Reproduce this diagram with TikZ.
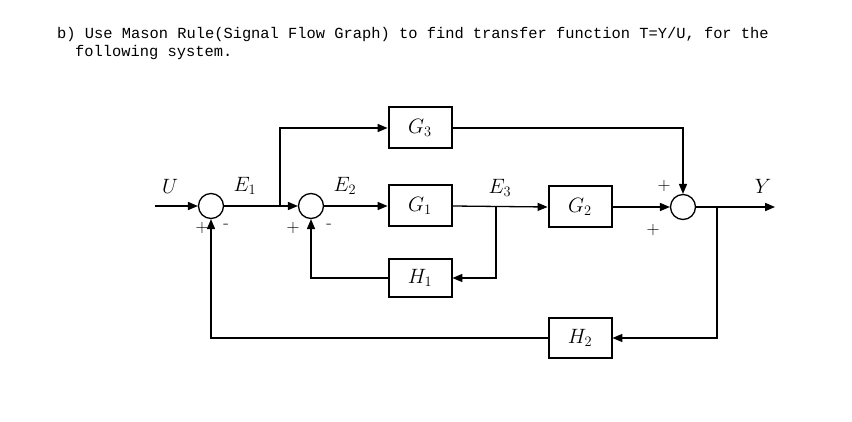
\documentclass[tikz,border=0pt]{standalone}
\usepackage{fontspec}
\newfontfamily\monofont{Liberation Mono}
\usetikzlibrary{arrows,calc,positioning}

\begin{document}
\begin{tikzpicture}[x=1pt,y=-1pt,
            every node/.style={ inner sep=0pt },
            block/.style={ draw, line width=2pt, minimum width=63pt, minimum height=41pt, font=\fontsize{21}{24}\selectfont\itshape },
            sum/.style={ draw, circle, line width=1.3pt, minimum size=25pt },
            sig/.style={ font=\fontsize{21}{24}\selectfont\itshape },
            sgn/.style={ font=\fontsize{18}{20}\selectfont },
            link/.style={ line width=1.3pt, -triangle 45 }
        ]
        \useasboundingbox (0,0) rectangle (852,422);

        \node[anchor=west, font=\monofont\fontsize{15.4}{18}\selectfont] (title) at (57,35)
            {b) Use Mason Rule(Signal Flow Graph) to find transfer function T=Y/U, for the};
        \node[anchor=west, font=\monofont\fontsize{15.4}{18}\selectfont] (title2) at (75,53)
            {following system.};

        \node[sum] (s1) at (211,206) {};
        \node[sum] (s2) at (311,206) {};
        \node[sum] (s3) at (683,207) {};
        \node[block] (g3) at (420,128) {$G_3$};
        \node[block] (g1) at (420,206) {$G_1$};
        \node[block] (g2) at (580,207) {$G_2$};
        \node[block, minimum height=38pt] (h1) at (420,278) {$H_1$};
        \node[block, minimum height=40pt] (h2) at (580,338) {$H_2$};

        \coordinate (in) at (155,206);
        \coordinate (out) at (775,207);
        \coordinate (b1) at (280,206);
        \coordinate (b3) at (496,206);
        \coordinate (by) at (717,207);

        \draw[link] (in) -- (s1);
        \draw[link] (s1) -- (s2);
        \draw[link] (b1) |- (g3);
        \draw[link] (g3) -| (s3);
        \draw[link] (s2) -- (g1);
        \draw[link] (g1.east) -- (g2.west);
        \draw[link] (g2) -- (s3);
        \draw[link] (s3) -- (out);
        \draw[link] (b3) |- (h1);
        \draw[link] (h1) -| (s2);
        \draw[link] (by) |- (h2);
        \draw[link] (h2) -| (s1);

        % signal labels
        \node[sig] (lu) at (170,186) {$U$};
        \node[sig] (le1) at (245,186) {$E_1$};
        \node[sig] (le2) at (345,186) {$E_2$};
        \node[sig] (le3) at (500,188) {$E_3$};
        \node[sig] (ly) at (763,186) {$Y$};

        % signs
        \node[sgn] (p1) at (202,228) {+};
        \node[sgn] (m1) at (226,226) {-};
        \node[sgn] (p2) at (293,228) {+};
        \node[sgn] (m2) at (329,226) {-};
        \node[sgn] (p3) at (664,186) {+};
        \node[sgn] (p4) at (653,230) {+};
\end{tikzpicture}
\end{document}
